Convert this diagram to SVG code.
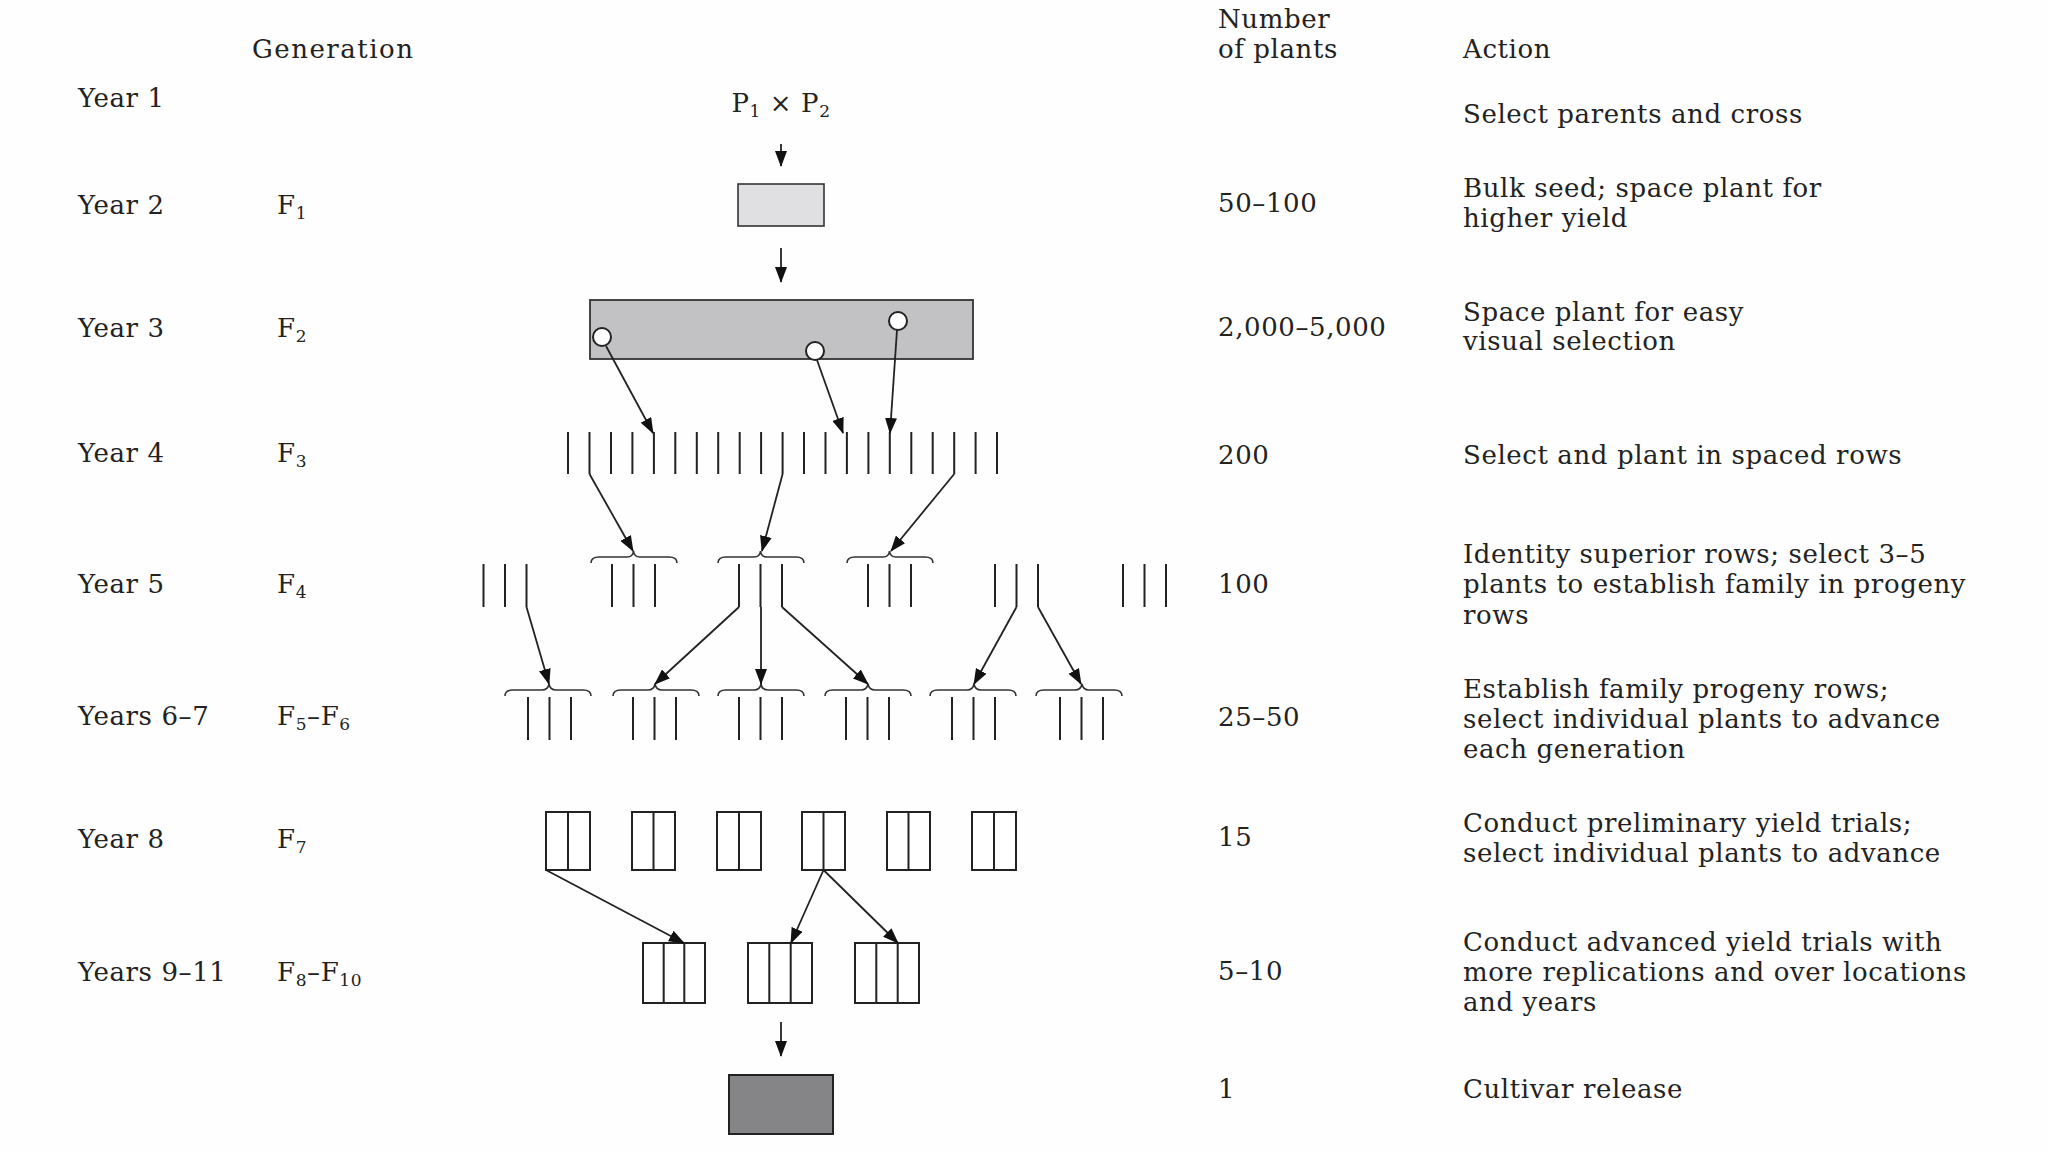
<svg xmlns="http://www.w3.org/2000/svg" width="2048" height="1152" viewBox="0 0 2048 1152">
<defs>
<style>
text{font-family:"DejaVu Serif","Liberation Serif",serif;font-size:26px;fill:#222;letter-spacing:0.6px}
.sub{font-size:17px}
.ln{stroke:#222;stroke-width:2;fill:none}
.ar{stroke:#222;stroke-width:1.8;fill:none;marker-end:url(#ah)}
.br{stroke:#333;stroke-width:1.6;fill:none}
.bx{stroke:#222;stroke-width:2;fill:#fff}
</style>
<marker id="ah" markerUnits="userSpaceOnUse" markerWidth="16" markerHeight="12" refX="15" refY="6" orient="auto"><path d="M0,0 L16,6 L0,12 Z" fill="#111"/></marker>
<path id="b3" d="M0,0 V43 M21.5,0 V43 M43,0 V43"/>
</defs>
<rect width="2048" height="1152" fill="#fefefe"/>
<g id="labels">
<text x="252" y="58" style="letter-spacing:1.5px">Generation</text>
<text x="1218" y="28">Number</text>
<text x="1218" y="58">of plants</text>
<text x="1463" y="58">Action</text>
<text x="78" y="107">Year 1</text>
<text x="78" y="214">Year 2</text>
<text x="78" y="337">Year 3</text>
<text x="78" y="462">Year 4</text>
<text x="78" y="593">Year 5</text>
<text x="78" y="725">Years 6–7</text>
<text x="78" y="848">Year 8</text>
<text x="78" y="981">Years 9–11</text>
<text x="277" y="214">F<tspan class="sub" dy="5">1</tspan></text>
<text x="277" y="337">F<tspan class="sub" dy="5">2</tspan></text>
<text x="277" y="462">F<tspan class="sub" dy="5">3</tspan></text>
<text x="277" y="593">F<tspan class="sub" dy="5">4</tspan></text>
<text x="277" y="725">F<tspan class="sub" dy="5">5</tspan><tspan dy="-5">–F</tspan><tspan class="sub" dy="5">6</tspan></text>
<text x="277" y="848">F<tspan class="sub" dy="5">7</tspan></text>
<text x="277" y="981">F<tspan class="sub" dy="5">8</tspan><tspan dy="-5">–F</tspan><tspan class="sub" dy="5">10</tspan></text>
<text x="781" y="112" text-anchor="middle">P<tspan class="sub" dy="5">1</tspan><tspan dy="-5"> × P</tspan><tspan class="sub" dy="5">2</tspan></text>
<text x="1218" y="212">50–100</text>
<text x="1218" y="336">2,000–5,000</text>
<text x="1218" y="464">200</text>
<text x="1218" y="593">100</text>
<text x="1218" y="726">25–50</text>
<text x="1218" y="846">15</text>
<text x="1218" y="980">5–10</text>
<text x="1218" y="1098">1</text>
<text x="1463" y="123">Select parents and cross</text>
<text x="1463" y="197">Bulk seed; space plant for</text>
<text x="1463" y="227">higher yield</text>
<text x="1463" y="321">Space plant for easy</text>
<text x="1463" y="350">visual selection</text>
<text x="1463" y="464">Select and plant in spaced rows</text>
<text x="1463" y="563">Identity superior rows; select  3–5</text>
<text x="1463" y="593">plants to establish family in progeny</text>
<text x="1463" y="624">rows</text>
<text x="1463" y="698">Establish family progeny rows;</text>
<text x="1463" y="728">select individual plants to advance</text>
<text x="1463" y="758">each generation</text>
<text x="1463" y="832">Conduct preliminary yield trials;</text>
<text x="1463" y="862">select individual plants to advance</text>
<text x="1463" y="951">Conduct advanced yield trials with</text>
<text x="1463" y="981">more replications and over locations</text>
<text x="1463" y="1011">and years</text>
<text x="1463" y="1098">Cultivar release</text>
</g>
<g id="F1"><rect x="738" y="184" width="86" height="42" fill="#e0e0e2" stroke="#333" stroke-width="1.6"/></g>
<g id="F2"><rect x="590" y="300" width="383" height="59" fill="#c2c2c4" stroke="#333" stroke-width="1.8"/>
<circle cx="602" cy="337" r="9" fill="#fff" stroke="#222" stroke-width="2"/>
<circle cx="815" cy="351" r="9" fill="#fff" stroke="#222" stroke-width="2"/>
<circle cx="898" cy="321" r="9" fill="#fff" stroke="#222" stroke-width="2"/></g>
<g id="F3" class="ln">
<path d="M568,432V474M589.5,432V474M611,432V474M632.4,432V474M653.9,432V474M675.3,432V474M696.8,432V474M718.2,432V474M739.7,432V474M761.1,432V474M782.6,432V474M804,432V474M825.5,432V474M846.9,432V474M868.4,432V474M889.8,432V474M911.3,432V474M932.7,432V474M954.2,432V474M975.6,432V474M997,432V474"/>
</g>
<g id="F4">
<use href="#b3" x="483.5" y="564" class="ln"/>
<use href="#b3" x="612" y="564" class="ln"/>
<use href="#b3" x="739" y="564" class="ln"/>
<use href="#b3" x="868" y="564" class="ln"/>
<use href="#b3" x="995" y="564" class="ln"/>
<use href="#b3" x="1123" y="564" class="ln"/>
<path class="br" d="M591,563 Q591,557 599,557 L627,557 Q633,557 633.5,551 Q634,557 640,557 L669,557 Q677,557 677,563"/>
<path class="br" d="M718,563 Q718,557 726,557 L754,557 Q760,557 760.5,551 Q761,557 767,557 L796,557 Q804,557 804,563"/>
<path class="br" d="M847,563 Q847,557 855,557 L883,557 Q889,557 889.5,551 Q890,557 896,557 L925,557 Q933,557 933,563"/>
</g>
<g id="F5">
<use href="#b3" x="528" y="697" class="ln"/>
<use href="#b3" x="633" y="697" class="ln"/>
<use href="#b3" x="739" y="697" class="ln"/>
<use href="#b3" x="846" y="697" class="ln"/>
<use href="#b3" x="952" y="697" class="ln"/>
<use href="#b3" x="1060" y="697" class="ln"/>
<path class="br" d="M505,696 Q505,690 513,690 L542,690 Q548,690 549,684 Q550,690 556,690 L583,690 Q591,690 591,696"/>
<path class="br" d="M613,696 Q613,690 621,690 L648,690 Q654,690 655,684 Q656,690 662,690 L691,690 Q699,690 699,696"/>
<path class="br" d="M718,696 Q718,690 726,690 L754,690 Q760,690 761,684 Q762,690 768,690 L796,690 Q804,690 804,696"/>
<path class="br" d="M825,696 Q825,690 833,690 L861,690 Q867,690 868,684 Q869,690 875,690 L903,690 Q911,690 911,696"/>
<path class="br" d="M930,696 Q930,690 938,690 L967,690 Q973,690 974,684 Q975,690 981,690 L1008,690 Q1016,690 1016,696"/>
<path class="br" d="M1036,696 Q1036,690 1044,690 L1075,690 Q1081,690 1082,684 Q1083,690 1089,690 L1114,690 Q1122,690 1122,696"/>
</g>
<g id="F7">
<rect class="bx" x="546" y="812" width="44" height="58"/><path class="ln" d="M568,812V870"/>
<rect class="bx" x="632" y="812" width="43" height="58"/><path class="ln" d="M653.5,812V870"/>
<rect class="bx" x="717" y="812" width="44" height="58"/><path class="ln" d="M739,812V870"/>
<rect class="bx" x="802" y="812" width="43" height="58"/><path class="ln" d="M823.5,812V870"/>
<rect class="bx" x="887" y="812" width="43" height="58"/><path class="ln" d="M908.5,812V870"/>
<rect class="bx" x="972" y="812" width="44" height="58"/><path class="ln" d="M994,812V870"/>
</g>
<g id="F8">
<rect class="bx" x="643" y="943" width="62" height="60"/><path class="ln" d="M663.7,943V1003M684.3,943V1003"/>
<rect class="bx" x="748" y="943" width="64" height="60"/><path class="ln" d="M769.3,943V1003M790.7,943V1003"/>
<rect class="bx" x="855" y="943" width="64" height="60"/><path class="ln" d="M876.3,943V1003M897.7,943V1003"/>
</g>
<g id="release"><rect x="729" y="1075" width="104" height="59" fill="#858587" stroke="#222" stroke-width="2"/></g>
<g id="connectors">
<path class="ar" d="M781,144V166"/>
<path class="ar" d="M781,248V282"/>
<path class="ar" d="M606,346L653,433"/>
<path class="ar" d="M817,360L843,433"/>
<path class="ar" d="M897,330L890,433"/>
<path class="ar" d="M589.5,474L633,551"/>
<path class="ar" d="M782.6,474L762,551"/>
<path class="ar" d="M954.2,474L891,551"/>
<path class="ar" d="M526.5,607L549,684"/>
<path class="ar" d="M739,607L655,684"/>
<path class="ar" d="M761,607V684"/>
<path class="ar" d="M782,607L868,684"/>
<path class="ar" d="M1016.5,607L974,684"/>
<path class="ar" d="M1038,607L1081,684"/>
<path class="ar" d="M546,870L684,943"/>
<path class="ar" d="M823.5,870L791,943"/>
<path class="ar" d="M823.5,870L898,943"/>
<path class="ar" d="M781,1022V1056"/>
</g>
</svg>
